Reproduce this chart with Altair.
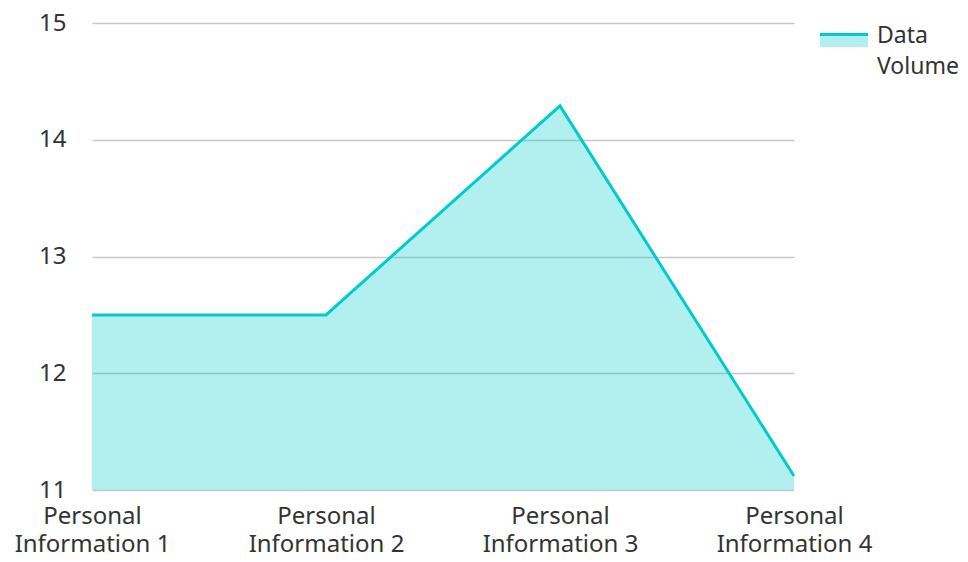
import altair as alt
import pandas as pd

categories = ["Personal Information 1", "Personal Information 2",
              "Personal Information 3", "Personal Information 4"]
values = [12.5, 12.5, 14.29, 11.12]
series_name = "Data Volume"
y_ticks = [11, 11.5, 12, 12.5, 13, 13.5, 14, 14.5, 15]
y_base = 11

df = pd.DataFrame({"cat": categories, "val": values})

FONT = "Noto Sans"
CYAN = "#00CCCC"
FS = 24

x_enc = alt.X("cat:N", sort=categories, title=None,
              scale=alt.Scale(type="point", padding=0),
              axis=alt.Axis(labelAngle=0, domain=False, ticks=False,
                            labelPadding=14, labelFontSize=FS, labelFont=FONT,
                            labelColor="#333333", labelLineHeight=28,
                            labelBaseline="top",
                            labelExpr="[slice(datum.label,0,8), slice(datum.label,9)]"))
y_enc = alt.Y("val:Q", title=None, scale=alt.Scale(domain=[11, 15], nice=False, zero=False),
              axis=alt.Axis(values=y_ticks, domain=False, ticks=False, labelPadding=26,
                            labelFontSize=FS, labelFont=FONT, labelColor="#333333",
                            format="d",
                            labelExpr="datum.value % 1 === 0 ? datum.label : ''",
                            gridColor={"condition": {"test": "datum.value % 1 === 0", "value": "#c8c8c8"},
                                       "value": "#e6e6e6"},
                            gridWidth=1.5))

base = alt.Chart(df)
area = base.mark_area(color=CYAN, opacity=0.3).encode(x=x_enc, y=y_enc, y2=alt.datum(y_base))
line = base.mark_line(color=CYAN, strokeWidth=3).encode(x="cat:N", y="val:Q")

leg_df = pd.DataFrame({"name": [series_name]})
leg = alt.Chart(leg_df)
leg_rect = leg.mark_rect(color=CYAN, opacity=0.3).encode(
    x=alt.value(728), x2=alt.value(776), y=alt.value(12), y2=alt.value(24))
leg_line = leg.mark_rule(color=CYAN, strokeWidth=3).encode(
    x=alt.value(728), x2=alt.value(776), y=alt.value(11.5))
leg_t1 = leg.mark_text(align="left", baseline="middle", fontSize=23, font=FONT, color="#333333").encode(
    x=alt.value(785), y=alt.value(13), text=alt.value("Data"))
leg_t2 = leg.mark_text(align="left", baseline="middle", fontSize=23, font=FONT, color="#333333").encode(
    x=alt.value(785), y=alt.value(44), text=alt.value("Volume"))

chart = alt.layer(area, line, leg_rect, leg_line, leg_t1, leg_t2).properties(
    width=702, height=467,
    padding={"left": 84, "top": 15, "right": 166, "bottom": 64},
    autosize=alt.AutoSizeParams(type="none"),
).configure_view(stroke=None)

chart.save("out.html", embed_options={"renderer": "svg", "actions": False})
